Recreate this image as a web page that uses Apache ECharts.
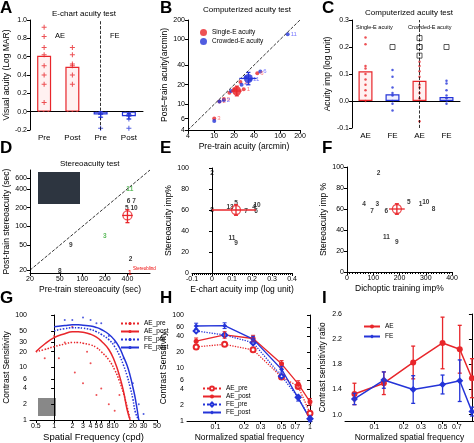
<!DOCTYPE html><html><head><meta charset="utf-8">
<script src="https://cdn.jsdelivr.net/npm/echarts@6/dist/echarts.min.js"></script>
<style>body{margin:0}#c{width:474px;height:443px}</style></head><body><div id="c"></div>
<script>
const L=v=>Math.log10(v);
// A
const catsA=['Pre','Post','Pre','Post'];
const barsA=[0.61,0.49,-0.03,-0.05];
const dotsA=[[0,0.92],[0,0.82],[0,0.7],[0,0.62],[0,0.5],[0,0.4],[0,0.3],[0,0.1],[1,0.7],[1,0.62],[1,0.52],[1,0.5],[1,0.4],[1,0.3],[2,-0.02],[2,-0.03],[2,-0.06],[2,-0.18],[3,-0.03],[3,-0.05],[3,-0.08],[3,-0.18]];
// B
const redB=[[10,6,'3'],[12,11,'2'],[14,12,'9'],[17,15,'8'],[25,22,'10'],[28,17,'1'],[45,30,'6'],[20,17,'4']];
const blueB=[[10,5.5,''],[12,11,''],[14,11.5,'2'],[18,16,''],[26,20,'4'],[30,26,'5'],[35,24,'11'],[50,32,'6'],[130,120,'11']];
// C
const catsC=['AE','FE','AE','FE'];
const barsC=[0.11,0.025,0.075,0.015];
const dotsC=[[0,0.235],[0,0.21],[0,0.13],[0,0.12],[0,0.1],[0,0.08],[0,0.06],[0,0.04],[0,0.02],[0,0.0],[1,0.115],[1,0.09],[1,0.05],[1,0.03],[1,0.02],[1,0.0],[1,-0.01],[1,-0.035],[2,0.145],[2,0.13],[2,0.11],[2,0.09],[2,0.06],[2,0.05],[2,0.03],[2,0.01],[2,-0.075],[3,0.075],[3,0.065],[3,0.04],[3,0.02],[3,0.01],[3,0.0],[3,-0.01]];
const sqC=[[1,0.2],[2,0.2],[2.35,0.233],[2.35,0.2],[2.35,0.168],[3,0.2]];
// D
const ptsD=[[50,19,'8','#000'],[70,50,'9','#000'],[200,70,'3','#3a3'],[430,400,'11','#3a3'],[450,250,'6 7','#000'],[450,195,'5 10','#000'],[440,30,'2','#000'],[430,18,'1','#e00']];
// E
const ptsE=[[0,95,'2'],[0,60,'8'],[0.09,63,'13'],[0.12,66,'5'],[0.17,59,'7'],[0.21,63,'4'],[0.225,65,'10'],[0.22,59,'6'],[0.1,33,'11'],[0.12,28,'9']];
// F
const ptsF=[[120,94,'2'],[65,65,'4'],[115,65,'3'],[95,58,'7'],[150,58,'6'],[235,66,'5'],[280,65,'1'],[300,66,'10'],[330,60,'8'],[150,33,'11'],[190,28,'9']];
// G
const sfG=[0.5,0.7,1,1.5,2,2.5,3,4,5,6,8,10,12,14,16,18,20,22,25];
const aePre=[20,22,25,28,30,30,29,27,24,20,14,9,5.5,3.2,1.8,1.0,null,null,null];
const aePost=[20,28,37,44,48,48,47,43,38,32,22,13,7,3.5,1.6,1.0,null,null,null];
const fePre=[null,null,50,55,57,57,56,53,48,43,34,25,17,11,7,4.2,2.5,1.4,1.0];
const fePost=[null,null,60,63,65,65,64,62,58,53,43,33,24,16,11,7,4.2,2.5,1.0];
const dotsG=[[1,40,'r'],[1.2,15,'r'],[1.5,30,'r'],[2,60,'r'],[2.2,8,'r'],[3,5,'r'],[4,12,'r'],[5,3,'r'],[6,4,'r'],[8,2,'r'],[10,1.5,'r'],[12,3,'r'],[0.7,15,'r'],[3.5,20,'r'],[2,80,'b'],[3,90,'b'],[4,80,'b'],[5,70,'b'],[6,70,'b'],[8,40,'b'],[10,30,'b'],[14,15,'b'],[20,5,'b'],[30,1.3,'b'],[25,2,'b'],[1.5,80,'b']];
// H
const nfH=[0.0625,0.125,0.25,0.5,0.75,1];
const hAePre=[25,28,22,6.8,4.5,1.4];
const hAePost=[32,42,36,12,5,2.3];
const hFePre=[50,42,30,7,2.8,1.1];
const hFePost=[62,63,35,9.5,2.7,1.1];
// I
const iAE=[1.33,1.5,1.83,2.14,2.04,1.58];
const iAEerr=[0.17,0.18,0.26,0.41,0.38,0.31];
const iFE=[1.25,1.55,1.4,1.48,1.54,1.05];
const iFEerr=[0.09,0.13,0.22,0.15,0.33,0.07];

const R='#e8262b',B='#2434d8';
const fs=7;
function vAx(gi,o){return Object.assign({type:'value',gridIndex:gi,axisLine:{show:true,lineStyle:{color:'#000'}},axisTick:{show:true,length:3},splitLine:{show:false},axisLabel:{fontSize:fs,color:'#000',margin:3},nameTextStyle:{fontSize:8.5,color:'#000'},nameLocation:'middle'},o||{});}
function logAx(gi,min,max,ticks,o){return vAx(gi,Object.assign({min:L(min),max:L(max),axisTick:{show:true,length:3,customValues:ticks.map(L)},axisLabel:{fontSize:fs,color:'#000',margin:3,customValues:ticks.map(L),formatter:v=>String(Math.round(Math.pow(10,v)*1000)/1000)}},o||{}));}
function catAx(gi,cats){return {type:'category',gridIndex:gi,data:cats,axisLine:{lineStyle:{color:'#000'}},axisTick:{show:false},axisLabel:{fontSize:8,color:'#000',margin:4}};}
function err(xi,data,color,w){
 return {type:'custom',xAxisIndex:xi,yAxisIndex:xi,data:data,z:5,renderItem:(p,api)=>{
  const a=api.coord([api.value(2),api.value(1)]),b=api.coord([api.value(3),api.value(1)]);
  const d=api.coord([api.value(0),api.value(4)]),e=api.coord([api.value(0),api.value(5)]);
  const st={stroke:color,lineWidth:w||1};
  return {type:'group',children:[
   {type:'line',shape:{x1:a[0],y1:a[1],x2:b[0],y2:b[1]},style:st},
   {type:'line',shape:{x1:d[0],y1:d[1],x2:e[0],y2:e[1]},style:st},
   {type:'line',shape:{x1:d[0]-2,y1:d[1],x2:d[0]+2,y2:d[1]},style:st},
   {type:'line',shape:{x1:e[0]-2,y1:e[1],x2:e[0]+2,y2:e[1]},style:st}]};}};}
function lbl(xi,data,color){return {type:'scatter',xAxisIndex:xi,yAxisIndex:xi,symbolSize:0,data:data.map(d=>({value:[d[0],d[1]],label:{show:true,formatter:d[2],color:d[3]||color,fontSize:6.5,fontWeight:'bold'}}))};}
const grids=[[30,20,113,110],[188,20,112,110],[352,20,108,108],[30,170,120,103],[192,168,100,105],[347,167,105,105],[30,315,127,108],[187,315,125,108],[345,314,129,109]].map(g=>({left:g[0],top:g[1],width:g[2],height:g[3]}));
const dash={type:'dashed',color:'#000',width:0.8};
const ring={color:'rgba(0,0,0,0)',borderColor:R,borderWidth:1.3};
const series=[];
// A (0)
series.push({type:'bar',xAxisIndex:0,yAxisIndex:0,barWidth:14,data:barsA.map((v,i)=>({value:v,itemStyle:{color:i<2?'rgba(255,220,220,0.4)':'rgba(220,220,255,0.4)',borderColor:i<2?R:B,borderWidth:1.2}})),
 markLine:{silent:true,symbol:'none',label:{show:false},lineStyle:dash,data:[{yAxis:0},{xAxis:1.5}]}});
series.push({type:'scatter',xAxisIndex:0,yAxisIndex:0,symbol:'path://M4,0H6V4H10V6H6V10H4V6H0V4H4Z',symbolSize:5,data:dotsA.map(d=>({value:d,itemStyle:{color:d[0]<2?R:B}}))});
series.push(err(0,[[2,-0.03,2,2,-0.06,0],[3,-0.05,3,3,-0.08,-0.02]],B));
// B (1)
series.push({type:'line',xAxisIndex:1,yAxisIndex:1,symbol:'none',lineStyle:dash,data:[[L(4),L(4)],[L(200),L(200)]]});
series.push({type:'scatter',name:'Single-E acuity',xAxisIndex:1,yAxisIndex:1,symbolSize:4,itemStyle:{color:R},data:redB.map(d=>({value:[L(d[0]),L(d[1])],label:{show:true,position:'right',distance:1,formatter:d[2],fontSize:6,color:'#f55'}}))});
series.push({type:'scatter',name:'Crowded-E acuity',xAxisIndex:1,yAxisIndex:1,symbolSize:4,itemStyle:{color:B},data:blueB.map(d=>({value:[L(d[0]),L(d[1])],label:{show:true,position:'right',distance:1,formatter:d[2],fontSize:6,color:'#55f'}}))});
series.push(err(1,[[L(22),L(16),L(18),L(26),L(13.5),L(19)]],R,1.3));
series.push(err(1,[[L(33),L(25),L(24),L(44),L(20),L(31)]],B,1.3));
series.push({type:'scatter',xAxisIndex:1,yAxisIndex:1,symbolSize:9,z:6,data:[{value:[L(22),L(16)],itemStyle:{color:R}},{value:[L(33),L(25)],itemStyle:{color:B}}]});
// C (2)
series.push({type:'bar',xAxisIndex:2,yAxisIndex:2,barWidth:14,data:barsC.map((v,i)=>({value:v,itemStyle:{color:i%2==0?'rgba(255,220,220,0.4)':'rgba(220,220,255,0.4)',borderColor:i%2==0?R:B,borderWidth:1.2}})),
 markLine:{silent:true,symbol:'none',label:{show:false},lineStyle:dash,data:[{yAxis:0},{xAxis:1.5}]}});
series.push({type:'scatter',xAxisIndex:2,yAxisIndex:2,symbolSize:2.5,data:dotsC.map(d=>({value:d,itemStyle:{color:d[0]%2==0?R:B}}))});
series.push({type:'scatter',xAxisIndex:2,yAxisIndex:2,symbol:'rect',symbolSize:[5,5],itemStyle:{color:'#fff',borderColor:'#333',borderWidth:1},data:sqC});
// D (3)
series.push({type:'line',xAxisIndex:3,yAxisIndex:3,symbol:'none',lineStyle:dash,data:[[L(20),L(20)],[L(800),L(800)]]});
series.push(lbl(3,ptsD.map(d=>[L(d[0]),L(d[1]),d[2],d[3]]),'#000'));
series.push(err(3,[[L(400),L(150),L(340),L(470),L(115),L(185)]],R,1.3));
series.push({type:'scatter',xAxisIndex:3,yAxisIndex:3,symbolSize:9,z:6,itemStyle:ring,data:[[L(400),L(150)]]});
// E (4)
series.push(lbl(4,ptsE,'#000'));
series.push(err(4,[[0.12,60,0,0.22,55,65]],R,1.3));
series.push({type:'scatter',xAxisIndex:4,yAxisIndex:4,symbolSize:9,z:6,itemStyle:ring,data:[[0.12,60]]});
// F (5)
series.push(lbl(5,ptsF,'#000'));
series.push(err(5,[[190,60,160,220,55,65]],R,1.3));
series.push({type:'scatter',xAxisIndex:5,yAxisIndex:5,symbolSize:9,z:6,itemStyle:ring,data:[[190,60]]});
// G (6)
const gl=(name,arr,c,t)=>({type:'line',name,xAxisIndex:6,yAxisIndex:6,symbol:'none',smooth:true,lineStyle:{color:c,width:1.5,type:t},itemStyle:{color:c},data:sfG.map((x,i)=>arr[i]==null?null:[L(x),L(arr[i])]).filter(Boolean)});
series.push(gl('AE_pre',aePre,R,'dotted'),gl('AE_post',aePost,R,'solid'),gl('FE_pre',fePre,B,'dotted'),gl('FE_post',fePost,B,'solid'));
series.push({type:'scatter',xAxisIndex:6,yAxisIndex:6,symbolSize:2,data:dotsG.map(d=>({value:[L(d[0]),L(d[1])],itemStyle:{color:d[2]=='r'?R:B}}))});
// H (7)
const hl=(name,arr,c,t,sym)=>({type:'line',name:name+' ',xAxisIndex:7,yAxisIndex:7,symbol:sym,symbolSize:5,lineStyle:{color:c,width:1.3,type:t},itemStyle:{color:c},data:nfH.map((x,i)=>[L(x),L(arr[i])])});
series.push(hl('AE_pre',hAePre,R,'dotted','emptyCircle'),hl('AE_post',hAePost,R,'solid','circle'),hl('FE_pre',hFePre,B,'dotted','emptyDiamond'),hl('FE_post',hFePost,B,'solid','diamond'));
series.push(err(7,nfH.map((x,i)=>[L(x),L(hAePost[i]),L(x),L(x),L(hAePost[i]*0.87),L(hAePost[i]*1.15)]),R));
series.push(err(7,nfH.map((x,i)=>[L(x),L(hFePost[i]),L(x),L(x),L(hFePost[i]*0.88),L(hFePost[i]*1.13)]),B));
// I (8)
series.push({type:'line',name:'AE',xAxisIndex:8,yAxisIndex:8,symbol:'circle',symbolSize:6,lineStyle:{color:R,width:1.5},itemStyle:{color:R},data:nfH.map((x,i)=>[L(x),iAE[i]])});
series.push({type:'line',name:'FE',xAxisIndex:8,yAxisIndex:8,symbol:'diamond',symbolSize:7,lineStyle:{color:B,width:1.5},itemStyle:{color:B},data:nfH.map((x,i)=>[L(x),iFE[i]])});
series.push(err(8,nfH.map((x,i)=>[L(x),iAE[i],L(x),L(x),iAE[i]-iAEerr[i],iAE[i]+iAEerr[i]]),R,1.3));
series.push(err(8,nfH.map((x,i)=>[L(x),iFE[i],L(x),L(x),iFE[i]-iFEerr[i],iFE[i]+iFEerr[i]]),B,1.3));

const minor={show:true,splitNumber:10,length:2};
const xAxis=[catAx(0,catsA),
 logAx(1,4,200,[4,10,20,40,100,200],{name:'Pre-train acuity (arcmin)',nameGap:12}),
 catAx(2,catsC),
 logAx(3,20,800,[20,50,100,200,400],{name:'Pre-train stereoacuity (sec)',nameGap:12}),
 vAx(4,{min:-0.1,max:0.4,interval:0.1,name:'E-chart acuity imp (log unit)',nameGap:12,minorTick:minor}),
 vAx(5,{min:0,max:400,interval:100,name:'Dichoptic training imp%',nameGap:12,minorTick:minor}),
 logAx(6,0.4,50,[0.5,1,2,3,4,5,6,8,10,20,30,50],{name:'Spatial Frequency (cpd)',nameGap:12,nameTextStyle:{fontSize:9.5,color:'#000'}}),
 logAx(7,0.05,1.05,[0.1,0.2,0.3,0.5,0.7,1],{name:'Normalized spatial frequency',nameGap:12}),
 logAx(8,0.05,1.05,[0.1,0.2,0.3,0.5,0.7],{name:'Normalized spatial frequency',nameGap:12})];
const f1=v=>v.toFixed(1);
const yAxis=[vAx(0,{min:-0.2,max:1.0,interval:0.2,name:'Visual acuity (Log MAR)',nameGap:18,axisLabel:{fontSize:fs,color:'#000',margin:3,formatter:f1}}),
 logAx(1,4,200,[4,6,10,20,40,100,200],{name:'Post–train acuity(arcmin)',nameGap:17}),
 vAx(2,{min:-0.1,max:0.3,interval:0.1,name:'Acuity imp (log unit)',nameGap:20,axisLabel:{fontSize:fs,color:'#000',margin:3,formatter:f1}}),
 logAx(3,18,800,[20,50,100,200,400,600],{name:'Post-train stereoacuity (sec)',nameGap:18}),
 vAx(4,{min:0,max:100,interval:20,name:'Stereoacuity imp%',nameGap:17}),
 vAx(5,{min:0,max:100,interval:20,name:'Stereoacuity imp %',nameGap:17}),
 logAx(6,1,100,[1,2,4,6,10,20,30,50,100],{name:'Contrast Sensitivity',nameGap:17}),
 logAx(7,1,100,[1,2,4,6,10,20,40,60,100],{name:'Contrast Sensitivity',nameGap:17}),
 vAx(8,{min:0.9,max:2.6,name:'Contrast sensitivity ratio',nameGap:18,axisTick:{show:true,length:3,customValues:[1.0,1.4,1.8,2.2,2.6]},axisLabel:{fontSize:fs,color:'#000',margin:3,formatter:f1,customValues:[1.0,1.4,1.8,2.2,2.6]}})];
const t=(x,y,s,sz,c)=>({type:'text',left:x,top:y,style:{text:s,fontSize:sz||8,fill:c||'#000',fontFamily:'Liberation Sans'}});
const P=(x,y,s)=>({type:'text',left:x,top:y,style:{text:s,fontSize:17,fontWeight:'bold',fill:'#000',fontFamily:'Liberation Sans'}});
const graphic=[P(0,0,'A'),P(160,0,'B'),P(322,0,'C'),P(0,140,'D'),P(160,140,'E'),P(322,140,'F'),P(0,290,'G'),P(160,290,'H'),P(322,290,'I'),
 t(52,10,'E-chart acuity test'),t(203,6,'Computerized acuity test'),t(365,9,'Computerized acuity test'),t(60,160,'Stereoacuity test'),
 t(55,32,'AE',7.5),t(110,32,'FE',7.5),
 t(356,24,'Single-E acuity',5.5),t(408,24,'Crowded-E acuity',5.5),
 t(133,266,'Stereoblind',4.5,'#e00'),
 {type:'rect',left:38,top:172,shape:{width:42,height:32},style:{fill:'#2d3540'}},
 {type:'rect',left:38,top:398,shape:{width:18,height:18},style:{fill:'#888'}}];
const legText={fontSize:6.5,color:'#000'};
const option={animation:false,textStyle:{fontFamily:'Liberation Sans'},grid:grids,xAxis,yAxis,series,graphic,
 legend:[{data:['Single-E acuity','Crowded-E acuity'],left:195,top:24,orient:'vertical',itemWidth:7,itemHeight:7,itemGap:2,textStyle:legText,icon:'circle'},
  {data:['AE_pre','AE_post','FE_pre','FE_post'],left:115,top:315,orient:'vertical',itemWidth:18,itemHeight:4,itemGap:1,textStyle:legText},
  {data:['AE_pre ','AE_post ','FE_pre ','FE_post '],left:197,top:380,orient:'vertical',itemWidth:18,itemHeight:5,itemGap:1,textStyle:legText},
  {data:['AE','FE'],left:358,top:318,orient:'vertical',itemWidth:16,itemHeight:5,itemGap:3,textStyle:legText}]};
echarts.init(document.getElementById('c')).setOption(option);
</script></body></html>
